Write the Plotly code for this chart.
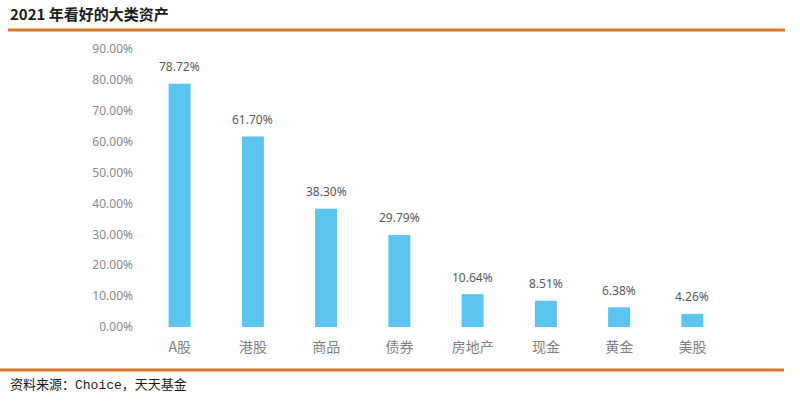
import plotly.graph_objects as go

categories = ["A股", "港股", "商品", "债券", "房地产", "现金", "黄金", "美股"]
values = [78.72, 61.70, 38.30, 29.79, 10.64, 8.51, 6.38, 4.26]
tick_vals = [0, 10, 20, 30, 40, 50, 60, 70, 80, 90]
tick_text = [f"{v:.2f}%" for v in tick_vals]
title_text = "2021 年看好的大类资产"
source_text = "资料来源：Choice，天天基金"

W, H = 800, 402
ml, mr, mt, mb = 143, 71, 49, 75
pw, ph = W - ml - mr, H - mt - mb

def px_x(x):
    return (x - ml) / pw

def px_y(y):
    return (H - mb - y) / ph

fig = go.Figure(go.Bar(
    x=categories, y=values,
    marker=dict(color="#5bc4ef", line=dict(width=0)),
))

annotations = [
    dict(x=c, y=v, xref="x", yref="y", text=f"{v:.2f}%", showarrow=False,
         yanchor="middle", yshift=17,
         font=dict(family="Noto Sans, Noto Sans CJK SC", size=12, color="#595959"))
    for c, v in zip(categories, values)
]
annotations += [
    dict(text=f"<b>{title_text}</b>", xref="paper", yref="paper",
         x=px_x(8), y=px_y(14), xanchor="left", yanchor="middle", showarrow=False,
         font=dict(family="Noto Sans CJK SC", size=15, color="#1a1a1a")),
    dict(text=source_text, xref="paper", yref="paper",
         x=px_x(8), y=px_y(385), xanchor="left", yanchor="middle", showarrow=False,
         font=dict(family="Liberation Mono, Noto Sans CJK SC", size=13, color="#1a1a1a")),
]

fig.update_layout(
    width=W, height=H,
    margin=dict(l=ml, r=mr, t=mt, b=mb),
    paper_bgcolor="white", plot_bgcolor="white",
    bargap=0.70,
    showlegend=False,
    font=dict(family="Noto Sans CJK SC", color="#7f7f7f"),
    xaxis=dict(showline=False, showgrid=False, ticks="",
               ticklabelstandoff=10,
               tickfont=dict(family="Noto Sans CJK SC", size=14, color="#7f7f7f")),
    yaxis=dict(range=[0, 90], tickvals=tick_vals, ticktext=tick_text,
               showgrid=False, showline=False, zeroline=False, ticks="",
               ticklabelstandoff=9,
               tickfont=dict(family="Noto Sans, Noto Sans CJK SC", size=12, color="#8a8a8a")),
    shapes=[
        dict(type="line", xref="paper", yref="paper",
             x0=px_x(8), x1=px_x(785), y0=px_y(30), y1=px_y(30),
             line=dict(color="#d9782a", width=3)),
        dict(type="line", xref="paper", yref="paper",
             x0=px_x(0), x1=px_x(784), y0=px_y(370), y1=px_y(370),
             line=dict(color="#d9782a", width=3)),
    ],
    annotations=annotations,
)

fig.write_html("out.html")
